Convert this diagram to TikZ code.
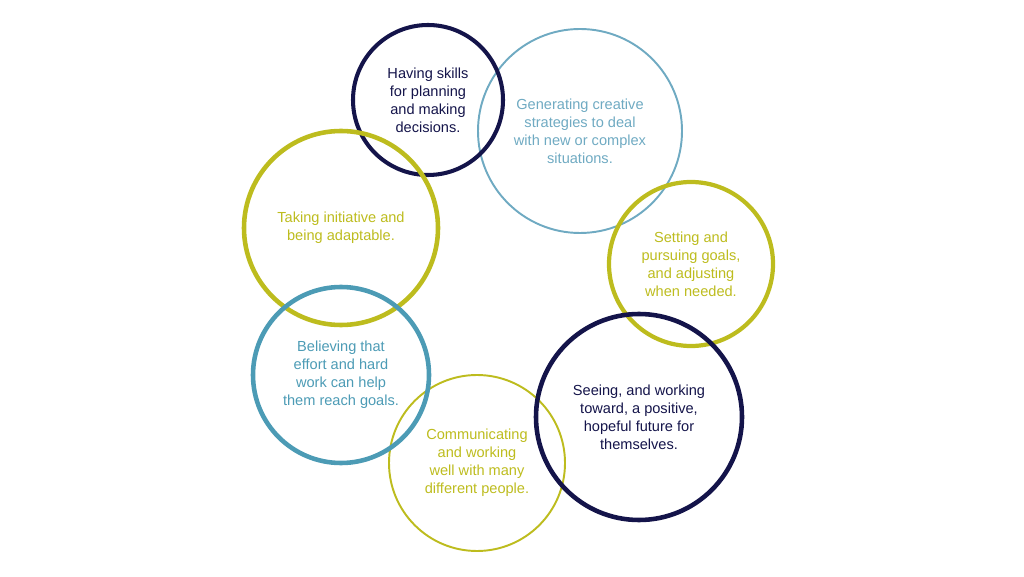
\documentclass[tikz,border=0pt]{standalone}
\usepackage{fontspec}
\setmainfont{Liberation Sans}
\definecolor{navy}{HTML}{14144A}
\definecolor{skyline}{HTML}{6FAAC2}
\definecolor{olive}{HTML}{BDBC1E}
\definecolor{tealblue}{HTML}{4C9BB5}
\begin{document}
\begin{tikzpicture}[x=0.02cm,y=-0.02cm]
\tikzset{ring/.style={draw,circle,inner sep=0pt},
  label/.style={align=center,font=\fontsize{8.3}{10.2}\selectfont}}
\useasboundingbox (0,0) rectangle (1024,577);
% rings
\node [ring,skyline,line width=1.1pt,minimum size=204*0.02cm] (create) at (580,131) {};
\node [ring,navy,line width=2.3pt,minimum size=150*0.02cm] (plan) at (428,100) {};
\node [ring,olive,line width=2.6pt,minimum size=194*0.02cm] (init) at (341,228) {};
\node [ring,olive,line width=2.4pt,minimum size=164*0.02cm] (goal) at (691,264) {};
\node [ring,olive,line width=1.1pt,minimum size=176*0.02cm] (talk) at (477,463) {};
\node [ring,navy,line width=2.6pt,minimum size=206*0.02cm] (future) at (639,417) {};
\node [ring,tealblue,line width=2.6pt,minimum size=176*0.02cm] (effort) at (341,375) {};
% texts
\node [label,navy] at (plan) {Having skills\\for planning\\and making\\decisions.};
\node [label,skyline] at (580,131) {Generating creative\\strategies to deal\\with new or complex\\situations.};
\node [label,olive] at (init) {Taking initiative and\\being adaptable.};
\node [label,olive] at (goal) {Setting and\\pursuing goals,\\and adjusting\\when needed.};
\node [label,navy] at (future) {Seeing, and working\\toward, a positive,\\hopeful future for\\themselves.};
\node [label,tealblue] at (effort) {Believing that\\effort and hard\\work can help\\them reach goals.};
\node [label,olive] at (talk) {Communicating\\and working\\well with many\\different people.};
\end{tikzpicture}
\end{document}
